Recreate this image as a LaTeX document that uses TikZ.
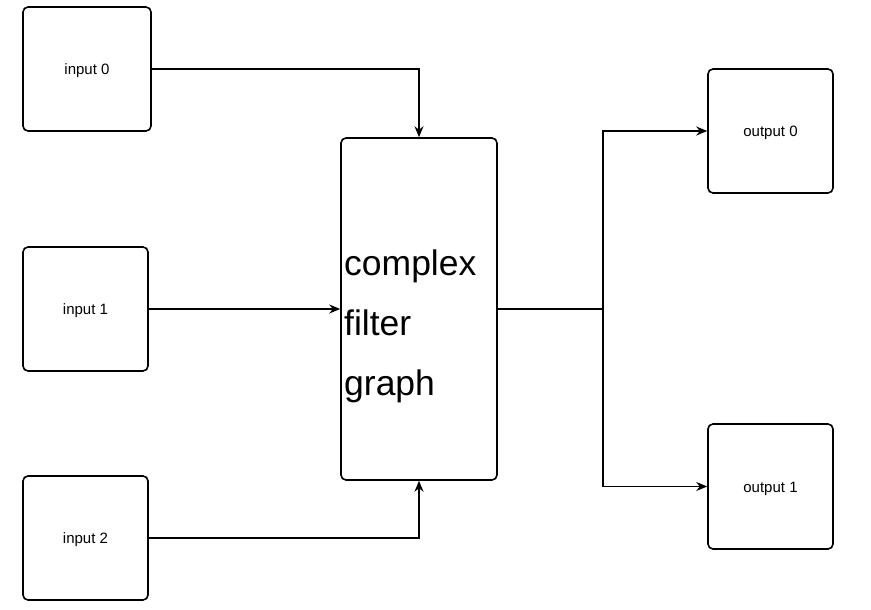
\documentclass[tikz,border=0pt]{standalone}
\usepackage{fontspec}
\setmainfont{Liberation Sans}
\usetikzlibrary{arrows.meta}
\begin{document}
\begin{tikzpicture}[x=1pt,y=-1pt,>={Stealth[length=11pt,width=9pt]},
	box/.style={draw=black,line width=1.6pt,rounded corners=5pt,inner sep=0pt},
	lbl/.style={font=\fontsize{15}{17}\selectfont,yshift=-2pt},
	link/.style={line width=1.1pt}]
	\useasboundingbox (0,0) rectangle (871,610);
	\node[box,minimum width=128,minimum height=124] (in0) at (87,69) {};
	\node[box,minimum width=125,minimum height=124] (in1) at (85.5,309) {};
	\node[box,minimum width=125,minimum height=124] (in2) at (85.5,538) {};
	\node[box,minimum width=156,minimum height=342] (g) at (419,309) {};
	\node[box,minimum width=125,minimum height=124] (out0) at (770.5,131) {};
	\node[box,minimum width=125,minimum height=125] (out1) at (770.5,486.5) {};

	\node[lbl] at (in0) {input 0};
	\node[lbl] at (in1) {input 1};
	\node[lbl] at (in2) {input 2};
	\node[lbl] at (out0) {output 0};
	\node[lbl] at (out1) {output 1};
	\node[anchor=west,align=left,inner sep=0pt,font=\fontsize{35.5}{60}\selectfont] at (344,326) {complex\\filter\\graph};

	\coordinate (j) at (603,309);
	\draw[link,->] (in0.east) -| (g.north);
	\draw[link,->] (in1.east) -- (g.west);
	\draw[link,->] (in2.east) -| (g.south);
	\draw[link] (g.east) -- (j);
	\draw[link,->] (j) |- (out0.west);
	\draw[link,->] (j) |- (out1.west);
\end{tikzpicture}
\end{document}
